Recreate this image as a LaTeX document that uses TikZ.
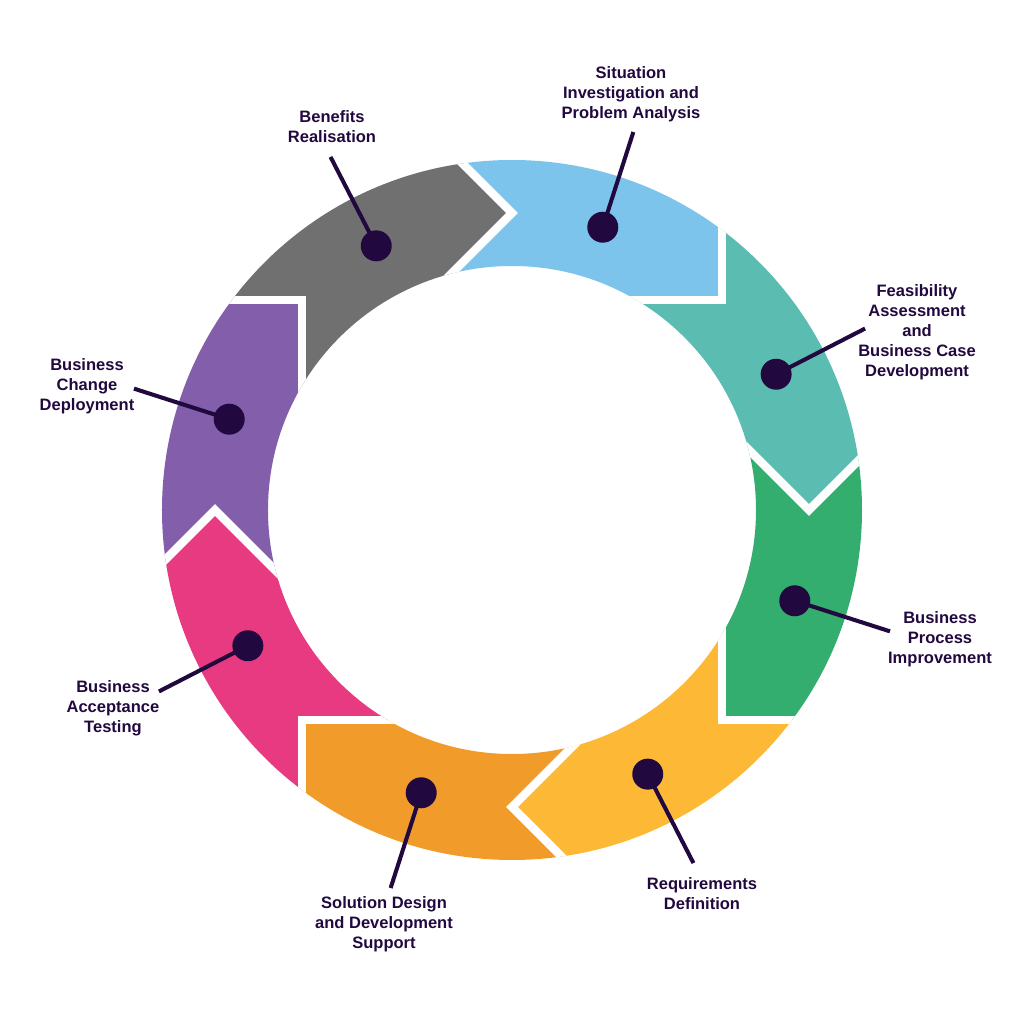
\documentclass[tikz,border=0pt]{standalone}
\usepackage{fontspec}
\setmainfont{Liberation Sans}
\definecolor{segblue}{RGB}{125,196,236}
\definecolor{segteal}{RGB}{91,189,177}
\definecolor{seggreen}{RGB}{51,174,110}
\definecolor{segyellow}{RGB}{253,185,53}
\definecolor{segorange}{RGB}{241,156,42}
\definecolor{segpink}{RGB}{232,58,129}
\definecolor{segpurple}{RGB}{130,94,171}
\definecolor{seggray}{RGB}{112,112,112}
\definecolor{cycink}{RGB}{33,8,62}
\usetikzlibrary{calc}

\begin{document}
\begin{tikzpicture}[x=0.02cm,y=0.02cm,
  cycdot/.style={circle,fill=cycink,minimum size=0.62cm,inner sep=0pt},
  cyclbl/.style={align=center,text=cycink,inner sep=0pt,
    font=\fontsize{9.4}{11.4}\selectfont\bfseries},
  cycline/.style={draw=cycink,line width=2.3pt},
  cycgap/.style={draw=white,line width=4.8pt,line join=miter}
]
  \useasboundingbox (-512,-514) rectangle (512,510);
  % Ring of arrows
  \begin{scope}[even odd rule]
    \clip (0,0) circle (350) (0,0) circle (244);
    \foreach \a/\col in {90/segblue,45/segteal,0/seggreen,-45/segyellow,
                         -90/segorange,-135/segpink,-180/segpurple,-225/seggray}{
      \pgfmathsetmacro{\b}{\a-45}
      \fill[\col] ($(\a:297)+(\a+45:150)$) -- (\a:297) -- ($(\a:297)+(\a+135:150)$)
        -- ($(\b:297)+(\b+135:150)$) -- (\b:297) -- ($(\b:297)+(\b+45:150)$) -- cycle;
    }
    % Gaps
    \foreach \a in {0,45,...,315}
      \draw[cycgap] ($(\a:297)+(\a+45:150)$) -- (\a:297) -- ($(\a:297)+(\a+135:150)$);
  \end{scope}

  % Dots
  \node[cycdot] (dotblue) at (72.2:297) {};
  \node[cycdot] (dotteal) at (27.2:297) {};
  \node[cycdot] (dotgreen) at (-17.8:297) {};
  \node[cycdot] (dotyellow) at (-62.8:297) {};
  \node[cycdot] (dotorange) at (-107.8:297) {};
  \node[cycdot] (dotpink) at (-152.8:297) {};
  \node[cycdot] (dotpurple) at (162.2:297) {};
  \node[cycdot] (dotgray) at (117.2:297) {};
  % Line ends
  \coordinate (endblue) at (72.2:397);
  \coordinate (endteal) at (27.2:397);
  \coordinate (endgreen) at (-17.8:397);
  \coordinate (endyellow) at (-62.8:397);
  \coordinate (endorange) at (-107.8:397);
  \coordinate (endpink) at (-152.8:397);
  \coordinate (endpurple) at (162.2:397);
  \coordinate (endgray) at (117.2:397);
  \draw[cycline] (dotblue.center) -- (endblue);
  \draw[cycline] (dotteal.center) -- (endteal);
  \draw[cycline] (dotgreen.center) -- (endgreen);
  \draw[cycline] (dotyellow.center) -- (endyellow);
  \draw[cycline] (dotorange.center) -- (endorange);
  \draw[cycline] (dotpink.center) -- (endpink);
  \draw[cycline] (dotpurple.center) -- (endpurple);
  \draw[cycline] (dotgray.center) -- (endgray);

  % Labels
  \node[cyclbl] (lblblue) at (119,416) {Situation\\Investigation and\\Problem Analysis};
  \node[cyclbl] (lblteal) at (405,178) {Feasibility\\Assessment\\and\\Business Case\\Development};
  \node[cyclbl] (lblgreen) at (428,-129) {Business\\Process\\Improvement};
  \node[cyclbl] (lblyellow) at (190,-384) {Requirements\\Definition};
  \node[cyclbl] (lblorange) at (-128,-414) {Solution Design\\and Development\\Support};
  \node[cyclbl] (lblpink) at (-399,-198) {Business\\Acceptance\\Testing};
  \node[cyclbl] (lblpurple) at (-425,124) {Business\\Change\\Deployment};
  \node[cyclbl] (lblgray) at (-180,383) {Benefits\\Realisation};
\end{tikzpicture}
\end{document}
